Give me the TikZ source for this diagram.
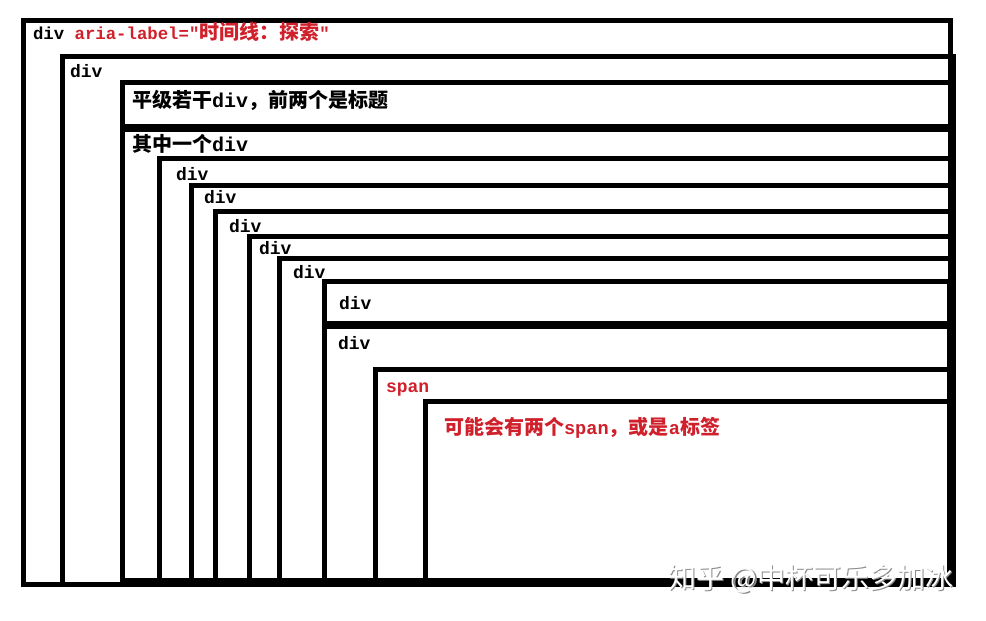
\documentclass[tikz,border=0pt]{standalone}
\usepackage{fontspec}
\newfontfamily\cjk{Noto Sans CJK SC}
\newfontfamily\lat{Liberation Mono}
\definecolor{lblred}{RGB}{208,32,44}
\newcommand\divtxt{{\lat\fontsize{13.5}{16}\selectfont div}}
\begin{document}
\begin{tikzpicture}[x=0.75pt,y=-0.75pt,
  box/.style={draw=black,line width=3.75pt,line join=miter},
  lbl/.style={anchor=base west,inner sep=0pt,outer sep=0pt,font=\bfseries\fontsize{15}{18}\selectfont},
  redlbl/.style={lbl,text=lblred},
  wm/.style={anchor=base west,inner sep=0pt,font=\cjk\fontsize{21}{24}\selectfont}]
\useasboundingbox (0,0) rectangle (986,621);
\fill[white] (0,0) rectangle (986,621);
% boxes
\draw[box] (23.5,20.5) rectangle (950.5,584.5);
\draw[box] (62.5,56.5) rectangle (953,584.5);
\draw[box] (122.5,82.5) rectangle (950.5,126);
\draw[box] (122.5,129) rectangle (951,580.5);
\draw[box] (159.5,158) rectangle (951.5,580.5);
\draw[box] (191.5,185) rectangle (951,580.5);
\draw[box] (215.5,211.5) rectangle (950.5,580.5);
\draw[box] (249,236.5) rectangle (950.5,580.5);
\draw[box] (279.5,258.5) rectangle (950.5,580.5);
\draw[box] (324.5,281.5) rectangle (949.5,323.5);
\draw[box] (324.5,326.5) rectangle (949.5,580.5);
\draw[box] (375,369) rectangle (949.5,580.5);
\draw[box] (425.5,401.5) rectangle (949.5,580.5);
% labels
\node[lbl] (tA) at (33,40) {{\lat\fontsize{13}{16}\selectfont div \textcolor{lblred}{aria-label="}}{\cjk\textcolor{lblred}{时间线：探索}}{\lat\fontsize{13}{16}\selectfont\textcolor{lblred}{"}}};
\node[lbl] (tB) at (70,77) {\divtxt};
\node[lbl] (tC1) at (132,107) {{\cjk 平级若干}{\lat div}{\cjk ，前两个是标题}};
\node[lbl] (tC2) at (132,151) {{\cjk 其中一个}{\lat div}};
\node[lbl] (tD1) at (176,180) {\divtxt};
\node[lbl] (tD2) at (204,203) {\divtxt};
\node[lbl] (tD3) at (229,232) {\divtxt};
\node[lbl] (tD4) at (259,254) {\divtxt};
\node[lbl] (tD5) at (293,278) {\divtxt};
\node[lbl] (tD6) at (339,309) {\divtxt};
\node[lbl] (tD7) at (338,349) {\divtxt};
\node[redlbl] (tS) at (386,392) {{\lat\fontsize{13.5}{16}\selectfont span}};
\node[redlbl] (tI) at (444,434) {{\cjk 可能会有两个}{\lat\fontsize{14}{16}\selectfont span}{\cjk ，或是}{\lat\fontsize{14}{16}\selectfont a}{\cjk 标签}};
% watermark
\node[wm,text=black!45] (wmshadow) at (669.5,589.5) {知乎 @中杯可乐多加冰};
\node[wm,text=white] (wm) at (668,588) {知乎 @中杯可乐多加冰};
\end{tikzpicture}
\end{document}
